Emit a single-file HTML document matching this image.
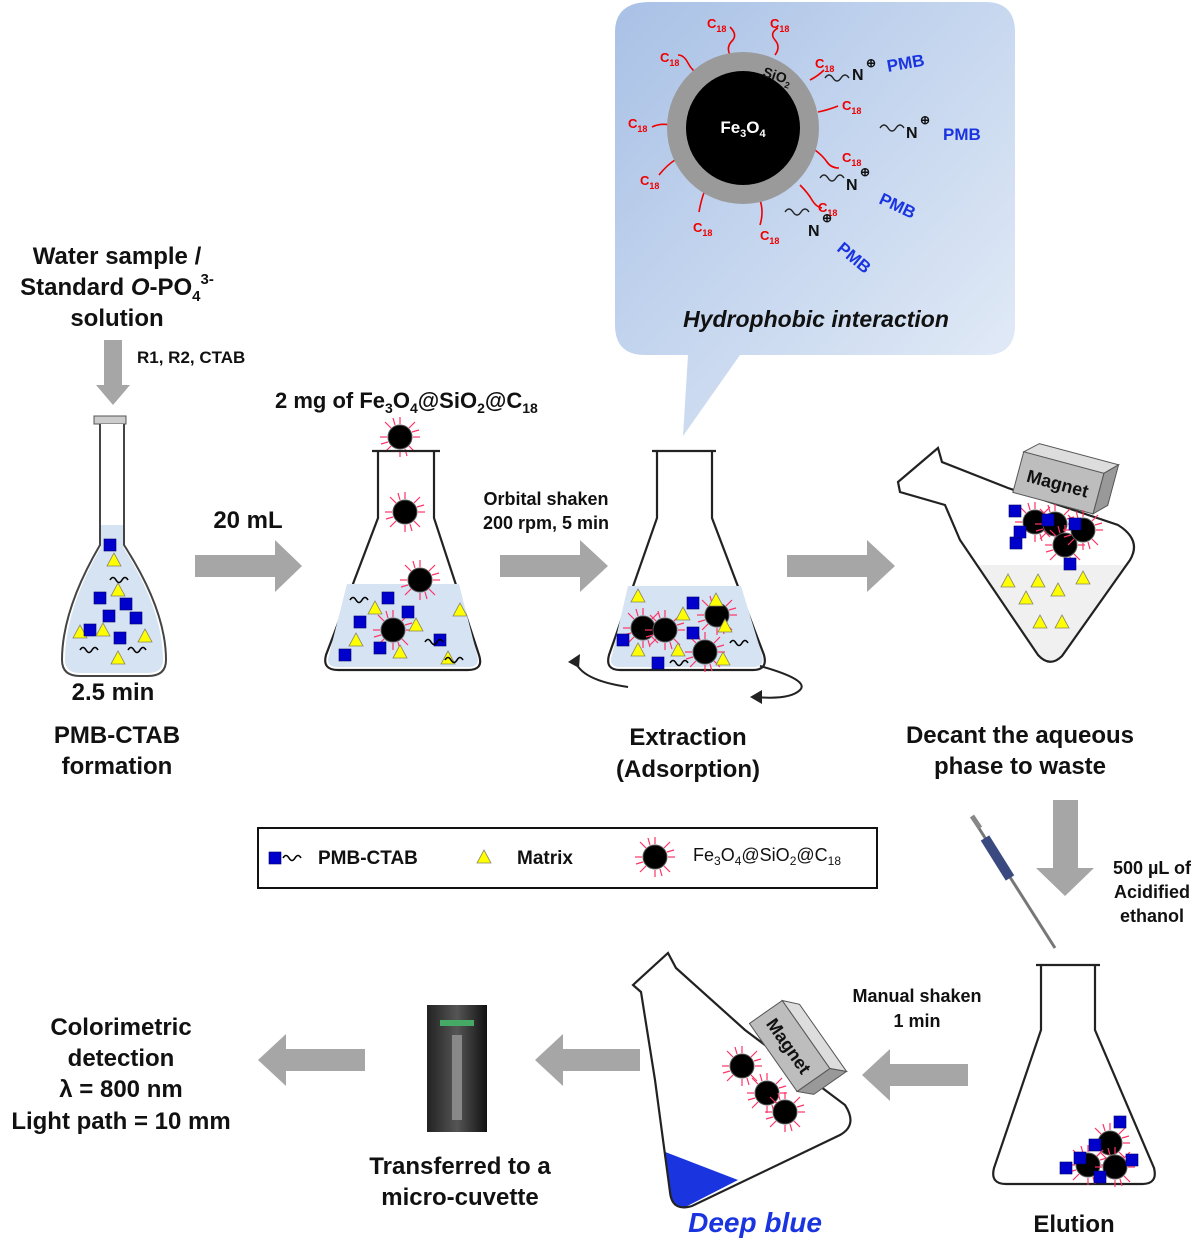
<!DOCTYPE html>
<html><head><meta charset="utf-8"><style>
body{margin:0;background:#fff}
svg{display:block}
text{font-family:"Liberation Sans",Arial,sans-serif;font-weight:bold;fill:#111}
</style></head><body>
<svg width="1200" height="1243" viewBox="0 0 1200 1243" xmlns="http://www.w3.org/2000/svg">
<defs>
<linearGradient id="cb" x1="0" y1="0" x2="1" y2="1">
<stop offset="0" stop-color="#a9c1e6"/><stop offset="1" stop-color="#e6eef8"/></linearGradient>
<linearGradient id="cuv" x1="0" y1="0" x2="1" y2="0">
<stop offset="0" stop-color="#222"/><stop offset="0.5" stop-color="#555"/><stop offset="1" stop-color="#111"/></linearGradient>
<clipPath id="dc"><path d="M898,482 L938,448 L942,462 L1008,488 L1118,525 Q1142,540 1130,560 L1062,656 Q1050,668 1038,655 L960,540 L945,505 L900,492 Z"/></clipPath>
<clipPath id="bc"><path d="M633,985 L668,953 L676,968 L745,1030 L845,1105 Q858,1125 840,1135 L692,1206 Q672,1212 670,1192 L655,1080 L641,992 Z"/></clipPath>
<g id="p">
<g stroke="#f36" stroke-width="1.2">
<line x1="0" y1="-13" x2="0" y2="-20"/><line x1="0" y1="13" x2="0" y2="20"/><line x1="-13" y1="0" x2="-20" y2="0"/><line x1="13" y1="0" x2="20" y2="0"/>
<line x1="9" y1="9" x2="15" y2="15"/><line x1="-9" y1="9" x2="-15" y2="15"/><line x1="9" y1="-9" x2="15" y2="-15"/><line x1="-9" y1="-9" x2="-15" y2="-15"/>
<line x1="5" y1="12" x2="7" y2="19"/><line x1="-5" y1="-12" x2="-7" y2="-19"/><line x1="12" y1="-5" x2="19" y2="-7"/><line x1="-12" y1="5" x2="-19" y2="7"/></g>
<circle r="12" fill="#000" stroke="#555" stroke-width="1"/></g>
<polygon id="t" points="0,-7 7,6 -7,6" fill="#ff0" stroke="#886" stroke-width="0.8"/>
<g id="s"><rect x="-6" y="-6" width="12" height="12" fill="#00c" stroke="#006" stroke-width="0.6"/></g>
<path id="w" d="M0,0 q3,-5 6,0 t6,0 t6,0" fill="none" stroke="#000" stroke-width="1.6"/>
</defs>

<!-- callout -->
<path d="M650,2 L985,2 Q1015,2 1015,32 L1015,325 Q1015,355 985,355 L740,355 L683,436 L688,355 L645,355 Q615,355 615,325 L615,32 Q615,2 650,2 Z" fill="url(#cb)"/>
<g stroke="#e00" stroke-width="1.6" fill="none">
<path d="M730,55 q-4,-8 2,-14 t-2,-14"/><path d="M775,55 q6,-8 0,-15 t3,-12"/><path d="M700,75 q-8,-4 -12,-12 t-10,-8"/>
<path d="M810,80 q8,-4 14,-10"/><path d="M818,112 q10,-2 20,-6"/><path d="M670,125 q-10,-2 -18,2"/>
<path d="M675,160 q-8,5 -16,15"/><path d="M815,150 q8,6 12,12 t12,6"/><path d="M705,190 q-4,10 -6,22"/>
<path d="M760,200 q4,12 0,25"/><path d="M800,185 q8,8 12,15 t10,8"/>
</g>
<circle cx="743" cy="128" r="76" fill="#9a9a9a"/>
<circle cx="743" cy="128" r="57" fill="#000"/>
<text x="743" y="133" text-anchor="middle" font-size="17" style="fill:#fff">Fe<tspan font-size="11" dy="4">3</tspan><tspan dy="-4">O</tspan><tspan font-size="11" dy="4">4</tspan></text>
<text x="762" y="76" font-size="14" transform="rotate(18 762 76)">SiO<tspan font-size="9" dy="4">2</tspan></text>
<g font-size="13">
<text x="707" y="28" style="fill:#e00">C<tspan font-size="9" dy="4">18</tspan></text>
<text x="770" y="28" style="fill:#e00">C<tspan font-size="9" dy="4">18</tspan></text>
<text x="660" y="62" style="fill:#e00">C<tspan font-size="9" dy="4">18</tspan></text>
<text x="815" y="68" style="fill:#e00">C<tspan font-size="9" dy="4">18</tspan></text>
<text x="628" y="128" style="fill:#e00">C<tspan font-size="9" dy="4">18</tspan></text>
<text x="842" y="110" style="fill:#e00">C<tspan font-size="9" dy="4">18</tspan></text>
<text x="640" y="185" style="fill:#e00">C<tspan font-size="9" dy="4">18</tspan></text>
<text x="842" y="162" style="fill:#e00">C<tspan font-size="9" dy="4">18</tspan></text>
<text x="693" y="232" style="fill:#e00">C<tspan font-size="9" dy="4">18</tspan></text>
<text x="760" y="240" style="fill:#e00">C<tspan font-size="9" dy="4">18</tspan></text>
<text x="818" y="212" style="fill:#e00">C<tspan font-size="9" dy="4">18</tspan></text>
</g>
<g stroke="#222" stroke-width="1.4" fill="none">
<path d="M825,78 q4,-6 8,0 t8,0 t8,0"/><path d="M880,128 q4,-6 8,0 t8,0 t8,0"/><path d="M820,178 q4,-6 8,0 t8,0 t8,0"/><path d="M785,212 q4,-6 8,0 t8,0 t8,0"/>
</g>
<g font-size="16">
<text x="852" y="80">N</text><text x="906" y="138">N</text><text x="846" y="190">N</text><text x="808" y="236">N</text>
<text x="866" y="67" font-size="12">⊕</text><text x="920" y="124" font-size="12">⊕</text><text x="860" y="176" font-size="12">⊕</text><text x="822" y="222" font-size="12">⊕</text>
</g>
<g font-size="17">
<text x="888" y="72" style="fill:#1a35e0" transform="rotate(-10 888 72)">PMB</text>
<text x="943" y="140" style="fill:#1a35e0">PMB</text>
<text x="878" y="203" style="fill:#1a35e0" transform="rotate(25 878 203)">PMB</text>
<text x="836" y="250" style="fill:#1a35e0" transform="rotate(40 836 250)">PMB</text>
</g>
<text x="816" y="327" text-anchor="middle" font-size="23" font-style="italic">Hydrophobic interaction</text>

<g font-size="24" text-anchor="middle">
<text x="117" y="264">Water sample /</text>
<text x="117" y="295">Standard <tspan font-style="italic">O</tspan>-PO<tspan font-size="15" dy="6">4</tspan><tspan font-size="15" dy="-17">3-</tspan></text>
<text x="117" y="326">solution</text>
<text x="113" y="700">2.5 min</text>
<text x="117" y="743">PMB-CTAB</text>
<text x="117" y="774">formation</text>
<text x="248" y="528">20 mL</text>
<text x="688" y="745">Extraction</text>
<text x="688" y="777">(Adsorption)</text>
<text x="1020" y="743">Decant the aqueous</text>
<text x="1020" y="774">phase to waste</text>
<text x="121" y="1035">Colorimetric</text>
<text x="121" y="1066">detection</text>
<text x="121" y="1097">λ = 800 nm</text>
<text x="121" y="1129">Light path = 10 mm</text>
<text x="460" y="1174">Transferred to a</text>
<text x="460" y="1205">micro-cuvette</text>
<text x="1074" y="1232">Elution</text>
</g>
<text x="755" y="1232" text-anchor="middle" font-size="28" font-style="italic" style="fill:#1a35e0">Deep blue</text>
<text x="137" y="363" font-size="17">R1, R2, CTAB</text>
<text x="275" y="408" font-size="22">2 mg of Fe<tspan font-size="14" dy="5">3</tspan><tspan dy="-5">O</tspan><tspan font-size="14" dy="5">4</tspan><tspan dy="-5">@SiO</tspan><tspan font-size="14" dy="5">2</tspan><tspan dy="-5">@C</tspan><tspan font-size="14" dy="5">18</tspan></text>
<g font-size="18" text-anchor="middle">
<text x="546" y="505">Orbital shaken</text><text x="546" y="529">200 rpm, 5 min</text>
<text x="917" y="1002">Manual shaken</text><text x="917" y="1027">1 min</text>
<text x="1152" y="874">500 µL of</text><text x="1152" y="898">Acidified</text><text x="1152" y="922">ethanol</text>
</g>

<g fill="#a6a6a6">
<polygon points="104,340 122,340 122,385 130,385 113,405 96,385 104,385"/>
<polygon points="195,555 275,555 275,540 302,566 275,592 275,577 195,577"/>
<polygon points="500,555 580,555 580,540 608,566 580,592 580,577 500,577"/>
<polygon points="787,555 867,555 867,540 895,566 867,592 867,577 787,577"/>
<polygon points="1053,800 1078,800 1078,868 1094,868 1065,896 1036,868 1053,868"/>
<polygon points="968,1064 890,1064 890,1049 862,1075 890,1101 890,1086 968,1086"/>
<polygon points="640,1049 563,1049 563,1034 535,1060 563,1086 563,1071 640,1071"/>
<polygon points="365,1049 286,1049 286,1034 258,1060 286,1086 286,1071 365,1071"/>
</g>

<rect x="94" y="416" width="32" height="8" fill="#ccc" stroke="#555"/>
<path d="M100,424 L100,545 Q62,610 62,660 Q62,676 80,676 L148,676 Q166,676 166,660 Q166,610 124,545 L124,424" fill="#fff" stroke="#444" stroke-width="2"/>
<path d="M101,525 L101,547 Q65,610 65,660 Q65,673 80,673 L148,673 Q163,673 163,660 Q163,610 123,547 L123,525 Z" fill="#d6e3f2"/>
<g>
<use href="#s" x="110" y="545"/><use href="#t" x="114" y="560"/><use href="#s" x="100" y="598"/><use href="#t" x="118" y="590"/><use href="#s" x="126" y="604"/>
<use href="#t" x="80" y="632"/><use href="#s" x="90" y="630"/><use href="#t" x="103" y="630"/><use href="#s" x="120" y="638"/><use href="#t" x="145" y="636"/><use href="#s" x="136" y="618"/><use href="#t" x="118" y="658"/><use href="#s" x="109" y="616"/>
<use href="#w" x="110" y="580"/><use href="#w" x="80" y="650"/><use href="#w" x="128" y="650"/>
</g>

<use href="#p" x="400" y="437"/>
<path d="M372,451 L440,451 M378,451 L378,518 L326,655 Q322,670 338,670 L468,670 Q484,670 479,655 L434,518 L434,451" fill="none" stroke="#222" stroke-width="2.2"/>
<path d="M347,584 L459,584 L477,655 Q481,667 468,667 L338,667 Q325,667 329,655 Z" fill="#d6e3f2"/>
<use href="#p" x="405" y="512"/><use href="#p" x="420" y="580"/><use href="#p" x="393" y="630"/>
<use href="#s" x="388" y="598"/><use href="#s" x="360" y="622"/><use href="#s" x="408" y="612"/><use href="#s" x="380" y="648"/><use href="#s" x="345" y="655"/><use href="#s" x="440" y="640"/>
<use href="#t" x="356" y="640"/><use href="#t" x="416" y="625"/><use href="#t" x="400" y="652"/><use href="#t" x="448" y="658"/><use href="#t" x="375" y="608"/><use href="#t" x="460" y="610"/>
<use href="#w" x="425" y="642"/><use href="#w" x="445" y="660"/><use href="#w" x="350" y="600"/>

<path d="M652,451 L716,451 M657,451 L657,518 L609,655 Q605,670 620,670 L753,670 Q768,670 764,655 L712,518 L712,451" fill="none" stroke="#222" stroke-width="2.2"/>
<path d="M628,586 L741,586 L762,655 Q765,667 753,667 L620,667 Q608,667 612,655 Z" fill="#d6e3f2"/>
<use href="#p" x="643" y="628"/><use href="#p" x="665" y="630"/><use href="#p" x="717" y="615"/><use href="#p" x="705" y="652"/>
<use href="#s" x="693" y="603"/><use href="#s" x="623" y="640"/><use href="#s" x="693" y="633"/><use href="#s" x="658" y="663"/>
<use href="#t" x="638" y="596"/><use href="#t" x="683" y="614"/><use href="#t" x="725" y="626"/><use href="#t" x="638" y="650"/><use href="#t" x="678" y="650"/><use href="#t" x="723" y="659"/><use href="#t" x="716" y="600"/>
<use href="#w" x="730" y="643"/><use href="#w" x="670" y="663"/>
<path d="M628,687 Q580,680 575,660" fill="none" stroke="#222" stroke-width="2"/>
<polygon points="568,662 580,654 579,668" fill="#222"/>
<path d="M760,666 Q810,680 800,690 Q790,700 755,697" fill="none" stroke="#222" stroke-width="2"/>
<polygon points="750,697 762,690 762,704" fill="#222"/>

<rect x="940" y="565" width="220" height="120" fill="#f0f0f0" clip-path="url(#dc)"/>
<path d="M898,482 L938,448 L942,462 L1008,488 L1118,525 Q1142,540 1130,560 L1062,656 Q1050,668 1038,655 L960,540 L945,505 L900,492 Z" fill="none" stroke="#222" stroke-width="2.2"/>
<g transform="rotate(15 1058 490)">
<polygon points="1015,462 1028,450 1110,450 1098,462" fill="#ddd" stroke="#555"/>
<polygon points="1098,462 1110,450 1110,492 1098,504" fill="#999" stroke="#555"/>
<rect x="1015" y="462" width="83" height="42" fill="#bdbdbd" stroke="#555"/>
<text x="1056" y="490" text-anchor="middle" font-size="18">Magnet</text>
</g>
<use href="#p" x="1035" y="522"/><use href="#p" x="1055" y="524"/><use href="#p" x="1065" y="545"/><use href="#p" x="1083" y="530"/>
<use href="#s" x="1015" y="511"/><use href="#s" x="1016" y="543"/><use href="#s" x="1048" y="520"/><use href="#s" x="1075" y="524"/><use href="#s" x="1020" y="532"/><use href="#s" x="1070" y="564"/>
<use href="#t" x="1008" y="581"/><use href="#t" x="1038" y="581"/><use href="#t" x="1026" y="598"/><use href="#t" x="1058" y="590"/><use href="#t" x="1083" y="578"/><use href="#t" x="1040" y="622"/><use href="#t" x="1062" y="622"/>

<rect x="258" y="828" width="619" height="60" fill="#fff" stroke="#111" stroke-width="2"/>
<use href="#s" x="275" y="858"/><use href="#w" x="283" y="858"/>
<text x="318" y="864" font-size="19">PMB-CTAB</text>
<use href="#t" x="484" y="857"/>
<text x="517" y="864" font-size="19">Matrix</text>
<use href="#p" x="655" y="857"/>
<text x="693" y="861" font-size="18" style="font-weight:normal">Fe<tspan font-size="12" dy="4">3</tspan><tspan dy="-4">O</tspan><tspan font-size="12" dy="4">4</tspan><tspan dy="-4">@SiO</tspan><tspan font-size="12" dy="4">2</tspan><tspan dy="-4">@C</tspan><tspan font-size="12" dy="4">18</tspan></text>

<line x1="975" y1="822" x2="1055" y2="948" stroke="#777" stroke-width="3"/>
<line x1="985" y1="838" x2="1010" y2="878" stroke="#3a4a80" stroke-width="10"/>
<line x1="972" y1="816" x2="980" y2="828" stroke="#888" stroke-width="5"/>

<path d="M1036,965 L1100,965 M1041,965 L1041,1030 L994,1168 Q990,1184 1006,1184 L1142,1184 Q1158,1184 1154,1168 L1095,1030 L1095,965" fill="none" stroke="#222" stroke-width="2.2"/>
<use href="#p" x="1110" y="1143"/><use href="#p" x="1088" y="1165"/><use href="#p" x="1115" y="1167"/>
<use href="#s" x="1120" y="1122"/><use href="#s" x="1080" y="1158"/><use href="#s" x="1095" y="1145"/><use href="#s" x="1066" y="1168"/><use href="#s" x="1132" y="1160"/><use href="#s" x="1100" y="1177"/>

<path d="M660,1150 L738,1180 L660,1220 Z" fill="#1a35e0" clip-path="url(#bc)"/>
<path d="M633,985 L668,953 L676,968 L745,1030 L845,1105 Q858,1125 840,1135 L692,1206 Q672,1212 670,1192 L655,1080 L641,992 Z" fill="none" stroke="#222" stroke-width="2.2"/>
<g transform="rotate(55 790 1050)">
<polygon points="745,1028 758,1016 840,1016 828,1028" fill="#ddd" stroke="#555"/>
<polygon points="828,1028 840,1016 840,1056 828,1068" fill="#999" stroke="#555"/>
<rect x="745" y="1028" width="83" height="40" fill="#bdbdbd" stroke="#555"/>
<text x="786" y="1055" text-anchor="middle" font-size="18">Magnet</text>
</g>
<use href="#p" x="742" y="1066"/><use href="#p" x="767" y="1093"/><use href="#p" x="785" y="1112"/>

<rect x="427" y="1005" width="60" height="127" fill="url(#cuv)"/>
<rect x="452" y="1035" width="10" height="85" fill="#888"/>
<rect x="440" y="1020" width="34" height="6" fill="#4a6"/>
</svg>
</body></html>
